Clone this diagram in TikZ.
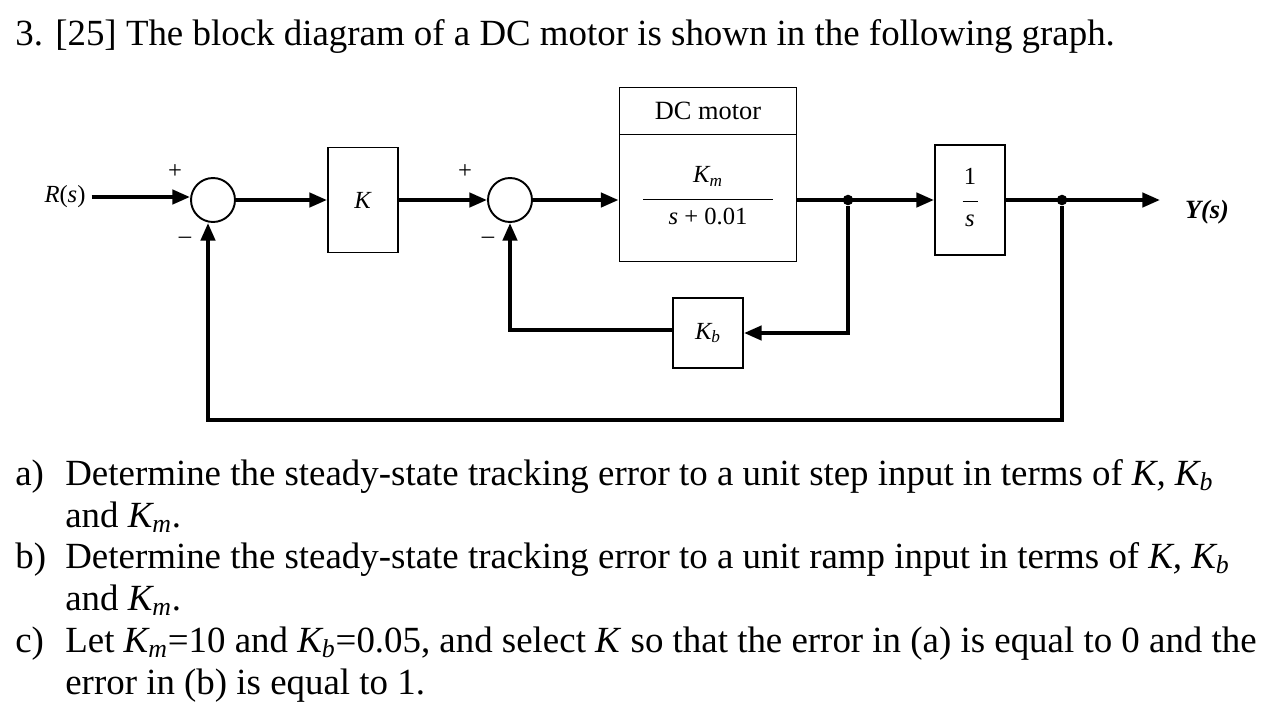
\documentclass[tikz,border=0pt]{standalone}
\usepackage{fontspec}
\setmainfont{Liberation Serif}
\usetikzlibrary{arrows.meta}
\newcommand{\myfrac}[2]{\begin{tabular}{@{}c@{}}#1\\[-2pt]\rule{#2}{0.6pt}\\[-4pt]\end{tabular}}
\begin{document}
\begin{tikzpicture}[x=0.02cm,y=-0.02cm,
  sig/.style={line width=2.2pt,-{Triangle[length=10pt,width=8pt]}},
  blk/.style={draw,line width=1.1pt,inner sep=0pt},
  sumc/.style={draw,circle,line width=1.1pt,minimum size=0.88cm,inner sep=0pt},
  txt/.style={font=\fontsize{21}{24}\selectfont,anchor=base west,inner sep=0pt},
  lab/.style={font=\fontsize{14}{16}\selectfont},
  dot/.style={circle,fill,inner sep=0pt,minimum size=6pt}]
\useasboundingbox (0,0) rectangle (1263,707);
\node[txt] (title) at (15,45) {3. [25] The block diagram of a DC motor is shown in the following graph.};
% blocks
\node[sumc] (s1) at (213,200) {};
\node[sumc] (s2) at (510,200) {};
\node[blk,minimum width=1.4cm,minimum height=2.1cm,lab] (K) at (363,200) {\textit{K}};
\node[blk,minimum width=3.54cm,minimum height=0.94cm,font=\fontsize{15}{17}\selectfont] (hdr) at (708,111) {DC motor};
\node[blk,minimum width=3.54cm,minimum height=2.54cm,lab] (dc) at (708,198) {\begin{tabular}{@{}c@{}}\textit{K\textsubscript{m}}\\[-6pt]\rule{2.6cm}{0.6pt}\\[-2pt]\textit{s} + 0.01\end{tabular}};
\node[blk,minimum width=1.4cm,minimum height=2.2cm,lab] (int) at (970,200) {\begin{tabular}{@{}c@{}}1\\[-6pt]\rule{0.3cm}{0.6pt}\\[-2pt]\textit{s}\end{tabular}};
\node[blk,minimum width=1.4cm,minimum height=1.4cm,lab] (kb) at (708,333) {\textit{K\textsubscript{b}}};
\node[lab] (R) at (65,197) {\textit{R}(\textit{s})};
\node[font=\fontsize{15}{17}\selectfont\bfseries] (Y) at (1207,212) {\textit{Y(s)}};
\node[dot] (d1) at (848,200) {};
\node[dot] (d2) at (1062,200) {};
\coordinate (yend) at (1160,200);
\coordinate (c1) at (848,333);
\coordinate (c2) at (510,330);
\coordinate (c3) at (1062,420);
\coordinate (c4) at (208,420);
% signs
\node[lab] at (175,172) {+};
\node[lab] at (185,240) {\textendash};
\node[lab] at (465,172) {+};
\node[lab] at (488,240) {\textendash};
% connectors
\draw[sig] (R.east) -- (s1.west |- R.east);
\draw[sig] (s1.east) -- (K.west);
\draw[sig] (K.east) -- (s2.west);
\draw[sig] (s2.east) -- (dc.west |- s2);
\draw[sig] (dc.east |- d1) -- (int.west);
\draw[sig] (int.east) -- (yend);
\draw[sig] (d1) -- (c1) -- (kb.east);
\draw[sig] (kb.west |- c2) -- (c2) -- (s2.south);
\draw[sig] (d2) -- (c3) -- (c4) -- (s1.south -| c4);
% questions
\node[txt] at (15,485) {a)};
\node[txt] at (65,485) {Determine the steady-state tracking error to a unit step input in terms of \textit{K, K\textsubscript{b}}};
\node[txt] at (65,527) {and \textit{K\textsubscript{m}}.};
\node[txt] at (15,568) {b)};
\node[txt] at (65,568) {Determine the steady-state tracking error to a unit ramp input in terms of \textit{K, K\textsubscript{b}}};
\node[txt] at (65,610) {and \textit{K\textsubscript{m}}.};
\node[txt] at (15,652) {c)};
\node[txt] at (65,652) {Let \textit{K\textsubscript{m}}=10 and \textit{K\textsubscript{b}}=0.05, and select \textit{K} so that the error in (a) is equal to 0 and the};
\node[txt] at (65,694) {error in (b) is equal to 1.};
\end{tikzpicture}
\end{document}
